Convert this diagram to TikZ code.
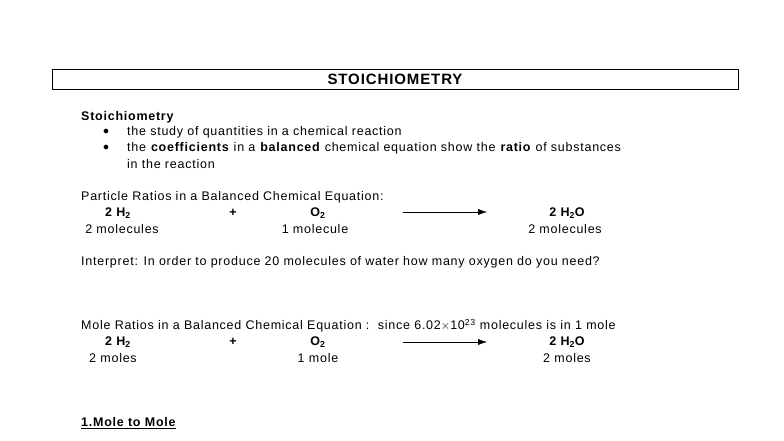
\documentclass[tikz,border=0pt]{standalone}
\usepackage{fontspec}
\setmainfont{Liberation Sans}[LetterSpace=6]
\usetikzlibrary{arrows.meta}
\begin{document}
\begin{tikzpicture}[x=1pt,y=-1pt,
  txt/.style={anchor=west,inner sep=0pt,font=\fontsize{12.5}{14}\selectfont},
  ctr/.style={inner sep=0pt,font=\fontsize{12.5}{14}\selectfont},
  bctr/.style={inner sep=0pt,font=\fontsize{12.5}{14}\selectfont\bfseries},
  arr/.style={-{Latex[length=9pt,width=6pt]}}]
\useasboundingbox (0,0) rectangle (784,441);
\node[draw,thick,minimum width=686,minimum height=20,inner sep=0pt,font=\fontsize{15}{17}\selectfont\bfseries] (title) at (395,79) {STOICHIOMETRY};
\node[txt,font=\fontsize{12.5}{14}\selectfont\bfseries] (s) at (81,117) {Stoichiometry};
\node[ctr] (b1) at (106,132) {$\bullet$};
\node[txt] (t1) at (127,132) {the study of quantities in a chemical reaction};
\node[ctr] (b2) at (106,148) {$\bullet$};
\node[txt] (t2) at (127,148) {the \textbf{coefficients} in a \textbf{balanced} chemical equation show the \textbf{ratio} of substances};
\node[txt] (t3) at (127,164) {in the reaction};
\node[txt] (p) at (81,197) {Particle Ratios in a Balanced Chemical Equation:};
\node[bctr] (a1) at (118,213) {2 H\textsubscript{2}};
\node[bctr] (pl1) at (233,213) {+};
\node[bctr] (o1) at (318,213) {O\textsubscript{2}};
\coordinate (r1s) at (403,212); \coordinate (r1e) at (487,212);
\draw[arr] (r1s) -- (r1e);
\node[bctr] (w1) at (567,213) {2 H\textsubscript{2}O};
\node[ctr] (m1) at (122,229) {2 molecules};
\node[ctr] (m2) at (315,229) {1 molecule};
\node[ctr] (m3) at (565,229) {2 molecules};
\node[txt] (i) at (81,262) {Interpret: In order to produce 20 molecules of water how many oxygen do you need?};
\node[txt] (mr) at (81,326) {Mole Ratios in a Balanced Chemical Equation :\ \ since 6.02$\times$10\textsuperscript{23} molecules is in 1 mole};
\node[bctr] (a2) at (118,342) {2 H\textsubscript{2}};
\node[bctr] (pl2) at (233,342) {+};
\node[bctr] (o2) at (318,342) {O\textsubscript{2}};
\coordinate (r2s) at (403,342); \coordinate (r2e) at (487,342);
\draw[arr] (r2s) -- (r2e);
\node[bctr] (w2) at (567,342) {2 H\textsubscript{2}O};
\node[ctr] (n1) at (113,358) {2 moles};
\node[ctr] (n2) at (318,358) {1 mole};
\node[ctr] (n3) at (567,358) {2 moles};
\node[txt,font=\fontsize{12.5}{14}\selectfont\bfseries] (mm) at (81,423) {\underline{1.Mole to Mole}};
\end{tikzpicture}
\end{document}
